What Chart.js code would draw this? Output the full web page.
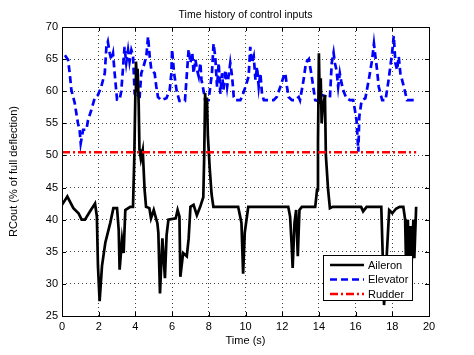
<!DOCTYPE html>
<html>
<head>
<meta charset="utf-8">
<script src="https://cdn.jsdelivr.net/npm/chart.js@4/dist/chart.umd.min.js"></script>
<style>
html,body{margin:0;padding:0;background:#fff;}
canvas{display:block;}
</style>
</head>
<body>
<canvas id="c" width="474" height="355"></canvas>
<script>
// ---- Data ----
const titleText = "Time history of control inputs";
const xTitle = "Time (s)";
const yTitle = "RCout (% of full deflection)";
const seriesNames = ["Aileron", "Elevator", "Rudder"];
const xTicks = [0, 2, 4, 6, 8, 10, 12, 14, 16, 18, 20];
const yTicks = [25, 30, 35, 40, 45, 50, 55, 60, 65, 70];

const aileronTime = [0, 0.29, 0.62, 0.9, 1.07, 1.25, 1.53, 1.8, 1.9, 1.96, 2.05, 2.18, 2.36, 2.63, 2.8, 3.0, 3.09, 3.14, 3.27, 3.36, 3.45, 3.72, 3.87, 3.94, 4.0, 4.03, 4.08, 4.12, 4.18, 4.22, 4.25, 4.3, 4.4, 4.5, 4.58, 4.76, 4.85, 5.0, 5.2, 5.25, 5.34, 5.47, 5.61, 5.7, 5.8, 6.2, 6.3, 6.4, 6.45, 6.6, 6.8, 6.9, 7.0, 7.17, 7.35, 7.53, 7.7, 7.75, 7.8, 7.85, 7.9, 7.95, 8.05, 8.15, 8.25, 9.6, 9.78, 9.87, 9.96, 10.15, 12.33, 12.43, 12.52, 12.57, 12.67, 12.76, 12.85, 12.94, 13.07, 13.8, 13.9, 13.95, 14.0, 14.05, 14.1, 14.15, 14.2, 14.33, 14.38, 14.5, 14.6, 14.75, 16.3, 16.41, 16.6, 17.4, 17.47, 17.55, 17.83, 18.0, 18.2, 18.4, 18.5, 18.6, 18.7, 18.75, 18.85, 18.9, 19.0, 19.05, 19.15, 19.2, 19.3];
const aileronValue = [42.3, 43.6, 41.8, 41.0, 40.0, 40.0, 41.3, 42.5, 40.5, 32.8, 27.3, 32.8, 36.4, 39.5, 41.8, 41.8, 38.4, 32.2, 36.9, 34.8, 41.5, 42.0, 42.0, 49.8, 60.0, 64.6, 62.0, 63.5, 58.0, 51.0, 50.4, 49.4, 50.8, 44.7, 42.0, 41.8, 40.2, 41.5, 39.4, 38.0, 28.5, 37.1, 30.9, 37.6, 40.0, 40.2, 41.5, 40.5, 31.1, 34.8, 34.3, 37.0, 42.0, 42.3, 40.7, 42.0, 43.5, 50.0, 59.7, 56.0, 59.0, 53.0, 48.0, 44.0, 42.0, 42.0, 39.5, 31.6, 38.0, 42.0, 42.0, 40.5, 35.8, 32.5, 39.5, 41.5, 34.3, 41.5, 42.0, 42.0, 44.7, 52.0, 65.9, 58.0, 62.0, 55.0, 57.0, 59.4, 50.0, 44.7, 41.8, 42.0, 42.0, 41.3, 42.0, 42.0, 35.2, 26.7, 41.5, 41.0, 41.7, 42.0, 42.0, 42.0, 40.0, 33.0, 40.0, 31.0, 39.0, 33.0, 40.0, 34.0, 42.0];

const elevatorTime = [0.16, 0.33, 0.42, 0.51, 0.69, 0.87, 0.96, 1.02, 1.15, 1.33, 1.42, 1.6, 1.78, 1.96, 2.14, 2.33, 2.42, 2.5, 2.6, 2.69, 2.78, 2.87, 3.0, 3.14, 3.23, 3.41, 3.5, 3.6, 3.68, 3.78, 3.87, 3.96, 4.05, 4.23, 4.32, 4.5, 4.6, 4.69, 4.78, 4.87, 5.05, 5.14, 5.23, 5.4, 5.69, 5.87, 5.96, 6.0, 6.1, 6.25, 6.4, 6.7, 6.9, 7.0, 7.1, 7.17, 7.27, 7.36, 7.45, 7.54, 7.6, 7.72, 7.8, 7.99, 8.08, 8.17, 8.26, 8.35, 8.45, 8.54, 8.63, 8.72, 8.8, 8.9, 9.0, 9.17, 9.27, 9.36, 9.45, 9.72, 9.8, 10.0, 10.17, 10.26, 10.35, 10.45, 10.54, 10.63, 10.72, 10.81, 10.9, 11.0, 11.53, 11.7, 11.9, 12.08, 12.17, 12.26, 12.35, 12.53, 12.7, 12.9, 12.97, 13.15, 13.3, 13.45, 13.6, 13.7, 13.8, 13.95, 14.05, 14.6, 14.7, 14.8, 14.87, 14.96, 15.05, 15.14, 15.23, 15.32, 15.4, 15.5, 15.7, 15.87, 15.96, 16.05, 16.1, 16.15, 16.2, 16.3, 16.35, 16.53, 16.72, 16.9, 17.0, 17.08, 17.17, 17.26, 17.45, 17.63, 17.8, 17.99, 18.08, 18.17, 18.26, 18.35, 18.44, 18.63, 18.8, 19.26];
const elevatorValue = [65.6, 64.9, 62.8, 60.2, 58.2, 55.0, 54.0, 51.9, 54.0, 54.0, 55.5, 57.1, 58.9, 59.4, 60.7, 62.8, 66.9, 67.7, 65.9, 64.9, 65.9, 62.8, 58.7, 58.7, 60.0, 66.9, 64.4, 66.4, 64.6, 66.4, 65.6, 59.6, 58.9, 59.1, 62.8, 64.4, 65.6, 68.5, 65.4, 63.3, 62.8, 60.7, 59.1, 58.6, 58.9, 60.2, 62.8, 66.5, 63.0, 60.0, 58.5, 58.5, 66.5, 64.4, 66.0, 62.8, 64.9, 63.3, 62.3, 64.4, 61.8, 60.0, 58.6, 58.6, 60.7, 62.8, 67.4, 65.4, 60.7, 64.4, 59.6, 62.8, 60.2, 63.3, 60.7, 64.4, 62.3, 59.1, 58.6, 58.6, 59.1, 60.7, 62.3, 66.9, 64.4, 65.4, 61.8, 63.8, 60.7, 62.8, 59.6, 58.6, 58.6, 59.1, 60.7, 62.3, 62.8, 60.7, 59.1, 58.6, 58.6, 59.1, 58.6, 61.5, 64.5, 65.0, 62.5, 60.5, 58.6, 58.5, 59.5, 59.0, 64.4, 66.0, 64.4, 63.3, 60.7, 62.8, 61.3, 60.2, 59.6, 58.9, 58.6, 58.6, 57.1, 55.5, 53.0, 50.6, 56.0, 58.0, 58.6, 58.9, 61.8, 64.9, 67.4, 65.4, 63.3, 60.7, 58.6, 58.6, 61.8, 66.0, 68.6, 64.4, 63.3, 65.4, 62.8, 60.7, 58.6, 58.6];

const rudderTime = [0, 19.3];
const rudderValue = [50.5, 50.5];

// ---- Build datasets ----
function pts(t, v) { return t.map((x, i) => ({ x: x, y: v[i] })); }

const styles = [
  { color: '#000000', dash: [] , width: 2.7 },
  { color: '#0000ff', dash: [7, 4], width: 2.7 },
  { color: '#ff0000', dash: [8, 3, 2, 3], width: 2.6 }
];

const datasets = [
  { label: seriesNames[0], data: pts(aileronTime, aileronValue) },
  { label: seriesNames[1], data: pts(elevatorTime, elevatorValue) },
  { label: seriesNames[2], data: pts(rudderTime, rudderValue) }
].map((d, i) => Object.assign(d, {
  borderColor: styles[i].color,
  backgroundColor: styles[i].color,
  borderWidth: styles[i].width,
  borderDash: styles[i].dash,
  pointRadius: 0,
  tension: 0,
  fill: false,
  order: i === 0 ? 1 : (i === 1 ? 2 : 0)
}));

const FONT = '"Liberation Sans", Arial, Helvetica, sans-serif';

// ---- Plugin: box, inward ticks, titles, legend ----
const matlabPlugin = {
  id: 'matlab',
  afterDraw(chart) {
    const ctx = chart.ctx;
    const a = chart.chartArea;
    const xs = chart.scales.x, ys = chart.scales.y;
    ctx.save();
    ctx.strokeStyle = '#000';
    ctx.lineWidth = 1;
    ctx.setLineDash([]);
    ctx.strokeRect(Math.round(a.left) + 0.5, Math.round(a.top) + 0.5, Math.round(a.right - a.left), Math.round(a.bottom - a.top));
    const tl = 4;
    ctx.beginPath();
    xTicks.forEach(v => {
      const px = Math.round(xs.getPixelForValue(v)) + 0.5;
      ctx.moveTo(px, a.bottom); ctx.lineTo(px, a.bottom - tl);
      ctx.moveTo(px, a.top); ctx.lineTo(px, a.top + tl);
    });
    yTicks.forEach(v => {
      const py = Math.round(ys.getPixelForValue(v)) + 0.5;
      ctx.moveTo(a.left, py); ctx.lineTo(a.left + tl, py);
      ctx.moveTo(a.right, py); ctx.lineTo(a.right - tl, py);
    });
    ctx.stroke();
    ctx.fillStyle = '#000';
    ctx.font = '10.5px ' + FONT;
    ctx.textAlign = 'center';
    ctx.textBaseline = 'middle';
    ctx.fillText(titleText, (a.left + a.right) / 2, 15);
    ctx.font = '11px ' + FONT;
    ctx.fillText(xTitle, (a.left + a.right) / 2, 341);
    ctx.save();
    ctx.translate(14, (a.top + a.bottom) / 2);
    ctx.rotate(-Math.PI / 2);
    ctx.fillText(yTitle, 0, 0);
    ctx.restore();
    const lx = 323, ly = 255, lw = 89, lh = 45;
    ctx.fillStyle = '#fff';
    ctx.fillRect(lx, ly, lw, lh);
    ctx.strokeStyle = '#000';
    ctx.lineWidth = 1;
    ctx.strokeRect(lx + 0.5, ly + 0.5, lw, lh);
    ctx.textAlign = 'left';
    ctx.font = '11px ' + FONT;
    seriesNames.forEach((name, i) => {
      const yy = ly + 10 + i * 14.5;
      ctx.strokeStyle = styles[i].color;
      ctx.lineWidth = styles[i].width;
      ctx.setLineDash(styles[i].dash);
      ctx.beginPath();
      ctx.moveTo(330, yy);
      ctx.lineTo(364, yy);
      ctx.stroke();
      ctx.setLineDash([]);
      ctx.fillStyle = '#000';
      ctx.fillText(name, 368, yy + 0.5);
    });
    ctx.restore();
  }
};

new Chart(document.getElementById('c'), {
  type: 'line',
  data: { datasets: datasets },
  options: {
    responsive: false,
    animation: false,
    devicePixelRatio: 1,
    layout: { padding: { left: 0, right: 45, top: 27, bottom: 0 } },
    plugins: { legend: { display: false }, title: { display: false }, tooltip: { enabled: false } },
    scales: {
      x: {
        type: 'linear', min: 0, max: 20,
        afterBuildTicks: s => { s.ticks = xTicks.map(v => ({ value: v })); },
        afterFit: s => { s.height = 39; },
        ticks: { color: '#000', font: { family: FONT, size: 11 }, padding: 4, maxRotation: 0 },
        grid: { color: 'rgba(0,0,0,0.75)', lineWidth: 1, drawTicks: false },
        border: { display: false, dash: [1, 3] }
      },
      y: {
        type: 'linear', min: 25, max: 70,
        afterBuildTicks: s => { s.ticks = yTicks.map(v => ({ value: v })); },
        afterFit: s => { s.width = 62; },
        ticks: { color: '#000', font: { family: FONT, size: 11 }, padding: 4 },
        grid: { color: 'rgba(0,0,0,0.75)', lineWidth: 1, drawTicks: false },
        border: { display: false, dash: [1, 3] }
      }
    }
  },
  plugins: [matlabPlugin]
});
</script>
</body>
</html>
